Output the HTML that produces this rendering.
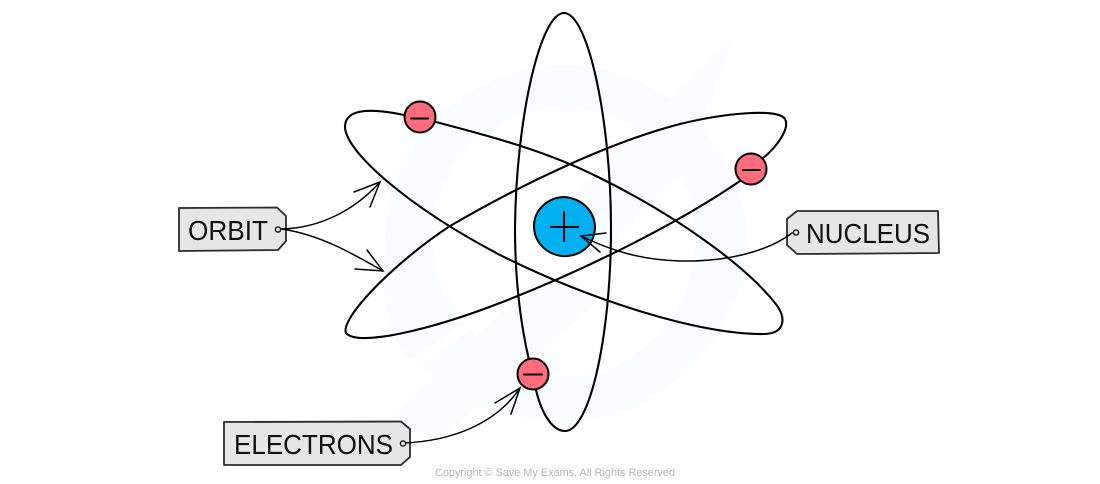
<!DOCTYPE html>
<html><head><meta charset="utf-8"><style>
html,body{margin:0;padding:0;background:#fff}
svg{display:block}
text{font-family:"Liberation Sans",sans-serif}
</style></head><body>
<svg width="1100" height="484" viewBox="0 0 1100 484" xmlns="http://www.w3.org/2000/svg">
<!-- watermark -->
<g fill="#fafdff">
<path d="M565 65C660 65 745 145 747 235C748 330 665 420 570 422C510 423 460 400 420 365L470 330C505 365 540 378 575 376C640 372 695 310 695 235C695 165 640 110 565 108C490 108 435 165 433 235C433 270 445 300 465 325L410 360C375 320 385 280 385 235C385 140 470 65 565 65Z"/>
<path d="M735 35L545 225L600 255L690 165Z"/>
<path d="M545 270L390 420L440 440L600 300Z" fill="#fbfcfd"/>
</g>
<!-- orbits -->
<g fill="none" stroke="#000" stroke-width="2.100" stroke-linecap="round">
<path d="M529 360C522 330 515 285 515 228C516 120 540 13 564 13C588 13 611 120 611 228C611 335 590 431 565 431C553 431 542 415 536 390"/>
<path d="M404 115C375 109 346 107 345 126C344 150 405 205 500 255C590 300 700 335 765 334C785 333 787 318 775 303C745 265 675 215 600 178C545 150 485 135 436 122"/>
<path d="M740 181C680 222 590 268 500 303C430 330 358 347 346 333C340 318 395 262 450 226C520 185 610 142 680 124C725 113 778 108 785 119C790 128 778 146 762 159"/>
</g>
<!-- nucleus -->
<path d="M565 197C583 199 595 212 595 228C594 246 580 257 562 256C545 254 534 241 534 226C534 210 548 197 565 197Z" fill="#00b0f0" stroke="#000" stroke-width="2"/>
<path d="M551 227H578M564 212V241" stroke="#000" stroke-width="2" fill="none" stroke-linecap="round"/>
<!-- electrons -->
<g fill="#ff6d7d" stroke="#000" stroke-width="2">
<circle cx="420" cy="117" r="15.500"/>
<circle cx="751" cy="169" r="15.500"/>
<circle cx="533" cy="374" r="15.500"/>
</g>
<g stroke="#000" stroke-width="2" stroke-linecap="round">
<path d="M411 118.500H428"/>
<path d="M743 170H760"/>
<path d="M524 374.500H542"/>
</g>
<!-- tags -->
<g fill="#e6e6e6" stroke="#2b2b2b" stroke-width="1.800" stroke-linejoin="round">
<path d="M179 208L277 207.500L286 216V241L278 250L179 251Z"/>
<path d="M797 211L938 211L939 253L797 254L787 245V219Z"/>
<path d="M224 422L401 421.500L410 429V457L401 465L224 465Z"/>
</g>
<g font-size="28" fill="#111">
<text x="188" y="240" textLength="80" lengthAdjust="spacingAndGlyphs">ORBIT</text>
<text x="806" y="243" textLength="124" lengthAdjust="spacingAndGlyphs">NUCLEUS</text>
<text x="234" y="454" textLength="159" lengthAdjust="spacingAndGlyphs">ELECTRONS</text>
</g>
<!-- connectors -->
<g fill="none" stroke="#000" stroke-width="1.500" stroke-linecap="round">
<path d="M282 229C320 228 355 210 380 182M354 192L380 182L370 207"/>
<path d="M282 229C320 235 350 252 383 271M367 250L383 271L355 269"/>
<path d="M792 233C770 250 730 262 680 261C640 260 610 250 581 236M606 233L581 236L600 252"/>
<path d="M404 443C450 441 495 425 520 388M495 403L520 388L511 414"/>
</g>
<g fill="#e6e6e6" stroke="#111" stroke-width="1.400">
<circle cx="278" cy="229.500" r="2.600"/>
<circle cx="796" cy="232.500" r="2.600"/>
<circle cx="403" cy="443.500" r="2.600"/>
</g>
<text x="555" y="476" font-size="11" fill="#b5b5b5" text-anchor="middle" textLength="240" lengthAdjust="spacingAndGlyphs">Copyright © Save My Exams. All Rights Reserved</text>
</svg>
</body></html>
